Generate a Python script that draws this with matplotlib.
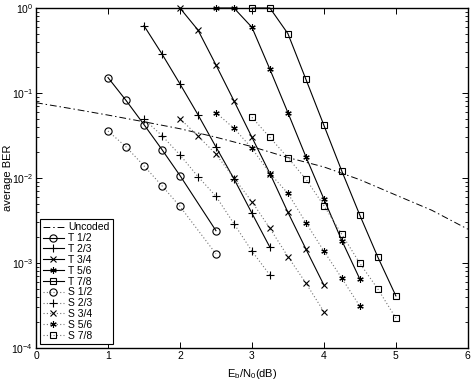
import numpy as np
import matplotlib
matplotlib.use("Agg")
import matplotlib.pyplot as plt

plt.rcParams['font.family'] = ['Liberation Sans', 'DejaVu Sans']
plt.rcParams['mathtext.fontset'] = 'custom'
plt.rcParams['mathtext.rm'] = 'Liberation Sans'
plt.rcParams['mathtext.it'] = 'Liberation Sans'

# ---- data ----
unc_x = [0, 0.5, 1, 1.5, 2, 2.5, 3, 3.5, 4, 4.5, 5, 5.5, 6]
unc_y = [0.0769, 0.0653, 0.0550, 0.0459, 0.0380, 0.0302, 0.0234, 0.0174,
         0.0135, 0.00955, 0.0063, 0.00417, 0.0025]

t12_x = [1, 1.25, 1.5, 1.75, 2, 2.5]
t12_y = [0.152, 0.082, 0.0425, 0.0216, 0.0107, 0.0024]
t23_x = [1.5, 1.75, 2, 2.25, 2.5, 2.75, 3, 3.25]
t23_y = [0.62, 0.288, 0.128, 0.0556, 0.0232, 0.0098, 0.00385, 0.00153]
t34_x = [2, 2.25, 2.5, 2.75, 3, 3.25, 3.5, 3.75, 4]
t34_y = [1.0, 0.551, 0.214, 0.081, 0.0301, 0.0113, 0.00395, 0.00146, 0.00055]
t56_x = [2.5, 2.75, 3, 3.25, 3.5, 3.75, 4, 4.25, 4.5]
t56_y = [1.0, 1.0, 0.593, 0.19, 0.0587, 0.0178, 0.00566, 0.00183, 0.000645]
t78_x = [3, 3.25, 3.5, 3.75, 4, 4.25, 4.5, 4.75, 5]
t78_y = [1.0, 1.0, 0.499, 0.145, 0.0417, 0.012, 0.00364, 0.00117, 0.00041]

s12_x = [1, 1.25, 1.5, 1.75, 2, 2.5]
s12_y = [0.0357, 0.0233, 0.0139, 0.0081, 0.00464, 0.00128]
s23_x = [1.5, 1.75, 2, 2.25, 2.5, 2.75, 3, 3.25]
s23_y = [0.0494, 0.0315, 0.0187, 0.0104, 0.0061, 0.0029, 0.00138, 0.00072]
s34_x = [2, 2.25, 2.5, 2.75, 3, 3.25, 3.5, 3.75, 4]
s34_y = [0.0499, 0.0312, 0.0191, 0.0100, 0.00526, 0.00256, 0.00119, 0.00058, 0.000267]
s56_x = [2.5, 2.75, 3, 3.25, 3.5, 3.75, 4, 4.25, 4.5]
s56_y = [0.0587, 0.0385, 0.0224, 0.0113, 0.0066, 0.00298, 0.00138, 0.00066, 0.00031]
s78_x = [3, 3.25, 3.5, 3.75, 4, 4.25, 4.5, 4.75, 5]
s78_y = [0.0518, 0.030, 0.0173, 0.0097, 0.00473, 0.00217, 0.00099, 0.000494, 0.000225]

labels = ['Uncoded', 'T 1/2', 'T 2/3', 'T 3/4', 'T 5/6', 'T 7/8',
          'S 1/2', 'S 2/3', 'S 3/4', 'S 5/6', 'S 7/8']

fig = plt.figure(figsize=(4.74, 3.82), dpi=100)
ax = fig.add_axes([0.076, 0.089, 0.911, 0.890])

ast = (6, 2, 0)
mk = {'o': 5.2, '+': 5.2, 'x': 4.2, ast: 4.6, 's': 4.4}

ax.plot(unc_x, unc_y, color='black', lw=0.7, ls=(0, (7, 3, 1.5, 3)), label=labels[0])

T = [(t12_x, t12_y, 'o'), (t23_x, t23_y, '+'), (t34_x, t34_y, 'x'),
     (t56_x, t56_y, ast), (t78_x, t78_y, 's')]
S = [(s12_x, s12_y, 'o'), (s23_x, s23_y, '+'), (s34_x, s34_y, 'x'),
     (s56_x, s56_y, ast), (s78_x, s78_y, 's')]

for (x, y, m), lab in zip(T, labels[1:6]):
    ax.plot(x, y, color='black', lw=0.8, ls='-', marker=m, ms=mk[m],
            mfc='none', mec='black', mew=0.8, label=lab, clip_on=False)
for (x, y, m), lab in zip(S, labels[6:]):
    ax.plot(x, y, color='0.45', lw=0.8, ls=(0, (1, 2)), marker=m, ms=mk[m],
            mfc='none', mec='black', mew=0.8, label=lab, clip_on=False)

ax.set_yscale('log')
ax.set_xlim(0, 6)
ax.set_ylim(1e-4, 1)
ax.set_xticks([0, 1, 2, 3, 4, 5, 6])
ax.tick_params(which='both', direction='in', top=True, right=True, labelsize=7.5, pad=2)
ax.tick_params(which='major', length=4, width=0.7)
ax.tick_params(which='minor', length=2, width=0.6)
for s in ax.spines.values():
    s.set_linewidth(1.0)

ax.set_xlabel('E$_b$/N$_0$(dB)', fontsize=8)
ax.set_ylabel('average BER', fontsize=8)
ax.yaxis.set_label_coords(-0.053, 0.5)
ax.xaxis.set_label_coords(0.5, -0.055)

leg = ax.legend(loc='lower left', bbox_to_anchor=(0.009, 0.012), borderaxespad=0,
                fontsize=7.5, fancybox=False, framealpha=1, edgecolor='black',
                labelspacing=0.08, handlelength=2.0, handletextpad=0.4,
                borderpad=0.3)
leg.get_frame().set_linewidth(0.8)

fig.savefig('out.png', dpi=100)
